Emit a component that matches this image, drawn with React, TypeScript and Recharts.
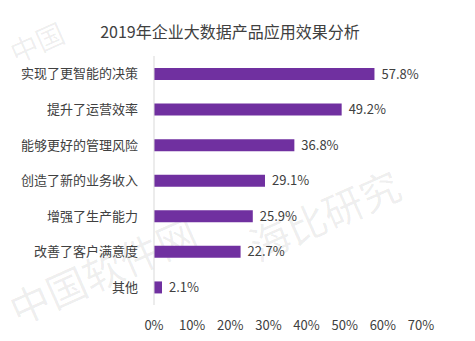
import { Bar, BarChart, LabelList, XAxis, YAxis } from "recharts";

const categories = [
  "实现了更智能的决策",
  "提升了运营效率",
  "能够更好的管理风险",
  "创造了新的业务收入",
  "增强了生产能力",
  "改善了客户满意度",
  "其他",
];
const shares = [57.8, 49.2, 36.8, 29.1, 25.9, 22.7, 2.1];
const xTicks = [0, 10, 20, 30, 40, 50, 60, 70];

const rows = categories.map((name, i) => ({ name, value: shares[i] }));

const FONT = "'Noto Sans CJK SC', 'Noto Sans', sans-serif";
const TEXT = "#404040";
const PURPLE = "#7030a0";

export default function App() {
  return (
    <div style={{ position: "absolute", left: 0, top: 0, width: 475, height: 341, background: "#fff", fontFamily: FONT }}>
      <svg width={475} height={341} style={{ position: "absolute", left: 0, top: 0 }}>
        <text x={230} y={38} textAnchor="middle" fontSize={16} fill={TEXT} fontFamily={FONT}>
          2019年企业大数据产品应用效果分析
        </text>
        {/* faint watermark */}
        <g fill="#000" fillOpacity={0.07} fontFamily={FONT} fontSize={40}>
          <text transform="translate(18,326) rotate(-24)">中国软件网</text>
          <text transform="translate(258,262) rotate(-24)">海比研究</text>
          <text transform="translate(16,64) rotate(-24)" fontSize={28}>中国</text>
        </g>
      </svg>
      <div style={{ position: "absolute", left: 0, top: 0 }}>
        <BarChart
          width={475}
          height={341}
          data={rows}
          layout="vertical"
          margin={{ top: 56, right: 54, bottom: 0, left: 0 }}
          barCategoryGap={0}
        >
          <XAxis
            type="number"
            domain={[0, 70]}
            ticks={xTicks}
            tickFormatter={(v) => `${v}%`}
            axisLine={false}
            tickLine={false}
            height={36}
            tickMargin={10}
            tick={{ fill: TEXT, fontSize: 13, fontFamily: FONT }}
          />
          <YAxis
            type="category"
            dataKey="name"
            width={154}
            axisLine={{ stroke: "#d9d9d9" }}
            tickLine={false}
            tickMargin={10}
            tick={{ fill: TEXT, fontSize: 13, fontFamily: FONT }}
          />
          <Bar dataKey="value" fill={PURPLE} barSize={12} isAnimationActive={false}>
            <LabelList
              dataKey="value"
              position="right"
              offset={7}
              formatter={(v: number) => `${v}%`}
              style={{ fill: TEXT, fontSize: 13, fontFamily: FONT }}
            />
          </Bar>
        </BarChart>
      </div>
    </div>
  );
}
